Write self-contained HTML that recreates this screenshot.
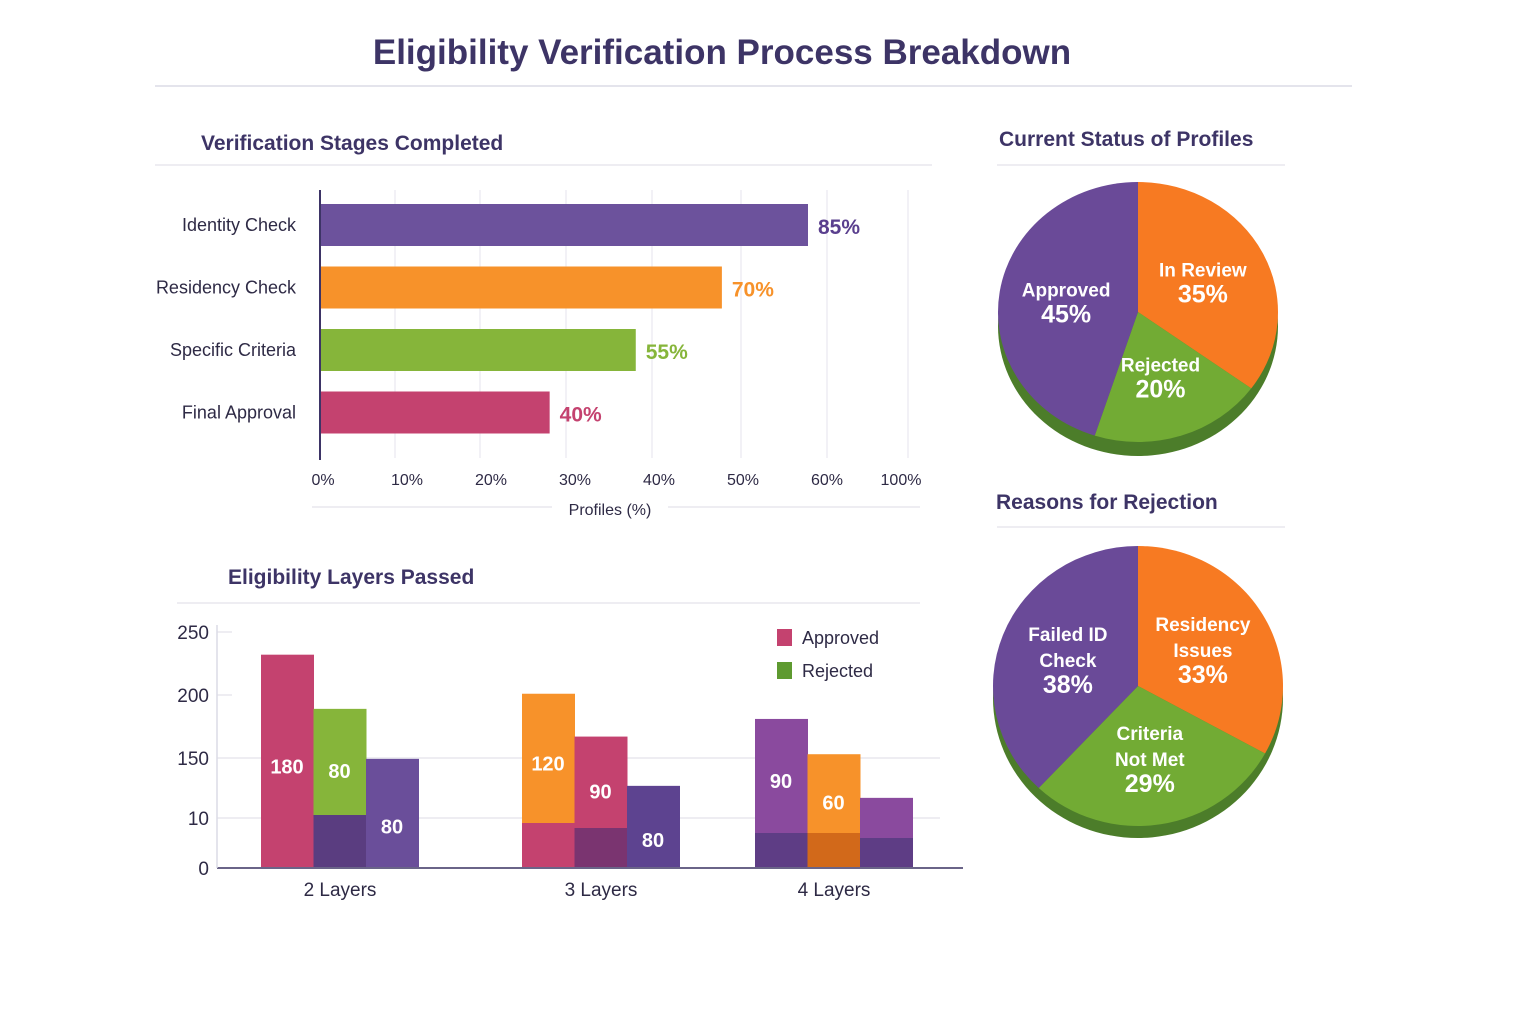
<!DOCTYPE html>
<html><head><meta charset="utf-8"><style>
body{margin:0;background:#fff;}
svg text{font-family:"Liberation Sans",sans-serif;}
</style></head><body>
<svg id="s" width="1536" height="1024" viewBox="0 0 1536 1024" xmlns="http://www.w3.org/2000/svg">
<text x="722" y="64" text-anchor="middle" font-size="35" font-weight="bold" fill="#3d3466">Eligibility Verification Process Breakdown</text>
<line x1="155" y1="86" x2="1352" y2="86" stroke="#dcdbe6" stroke-width="1.5"/>
<text x="201" y="150" font-size="21" font-weight="bold" fill="#3d3466">Verification Stages Completed</text>
<line x1="155" y1="165" x2="932" y2="165" stroke="#dcdbe6"/>
<text x="999" y="146" font-size="21" font-weight="bold" fill="#3d3466">Current Status of Profiles</text>
<line x1="997" y1="165" x2="1285" y2="165" stroke="#dcdbe6"/>
<text x="996" y="509" font-size="21" font-weight="bold" fill="#3d3466">Reasons for Rejection</text>
<line x1="997" y1="527" x2="1285" y2="527" stroke="#dcdbe6"/>
<text x="228" y="584" font-size="21" font-weight="bold" fill="#3d3466">Eligibility Layers Passed</text>
<line x1="177" y1="603" x2="920" y2="603" stroke="#dcdbe6"/>
<text x="610" y="515" text-anchor="middle" font-size="16" fill="#2e2a45">Profiles (%)</text>
<line x1="312" y1="507" x2="552" y2="507" stroke="#dcdbe6"/>
<line x1="668" y1="507" x2="920" y2="507" stroke="#dcdbe6"/>
<g id="hbar"></g><g id="vbar"></g><g id="pie1"></g><g id="pie2"></g>
</svg>
<script>
// Horizontal bar chart data
const stageNames=["Identity Check","Residency Check","Specific Criteria","Final Approval"];
const stageValues=[85,70,55,40];
const stageColors=["#6c529c","#f7922a","#86b53a","#c4426f"];
const stageTicks=["0%","10%","20%","30%","40%","50%","60%","100%"];
// Vertical grouped bar data
const layerCats=["2 Layers","3 Layers","4 Layers"];
const layerTop=[[232,189,148],[201,167,85],[181,153,57]];
const layerBase=[[0,17,0],[9,8,0],[7,7,6]];
const layerLabels=[["180","80","80"],["120","90","80"],["90","60",""]];
const layerTicks=[0,10,150,200,250];
// Pies
const pie1Labels=[["In Review"],["Rejected"],["Approved"]];
const pie1Values=[35,20,45];
const pie2Labels=[["Residency","Issues"],["Criteria","Not Met"],["Failed ID","Check"]];
const pie2Values=[33,29,38];

const NS="http://www.w3.org/2000/svg";
function mk(p,t,a,txt){const e=document.createElementNS(NS,t);for(const k in a)e.setAttribute(k,a[k]);if(txt!==undefined)e.textContent=txt;p.appendChild(e);return e;}

// ---- hbar
const hg=document.getElementById('hbar');
const hx=v=>320+v*(808-320)/85;
const hy=i=>204+i*62.5;
const gridX=[395,480,566,652,741,827,908];
gridX.forEach(x=>{const l=mk(hg,'line',{x1:x,y1:190,x2:x,y2:458,stroke:'#e4e3ec'});});
stageTicks.forEach((t,i)=>{const e=mk(hg,'text',{x:i<7?323+i*(827-323)/6:901,y:485,'text-anchor':'middle','font-size':16,fill:'#2e2a45'},t);});
stageNames.forEach((n,i)=>{
 const y=hy(i);
 const r=mk(hg,'rect',{x:320,y:y,width:hx(stageValues[i])-320,height:42,fill:stageColors[i]});
 
 const t=mk(hg,'text',{x:296,y:y+27,'text-anchor':'end','font-size':18,fill:'#2e2a45'},n);
 
 const v=mk(hg,'text',{x:hx(stageValues[i])+10,y:y+30,'font-size':21,'font-weight':'bold',fill:i==0?'#5a3f8e':stageColors[i]},stageValues[i]+'%');
 
});
const ax=mk(hg,'line',{x1:320,y1:190,x2:320,y2:460,stroke:'#3d3466','stroke-width':2});


// ---- vbar (piecewise axis through tick positions)
const vg=document.getElementById('vbar');
const tickY=[868,818,758,695,632];
function vy(v){for(let i=0;i<layerTicks.length-1;i++){if(v<=layerTicks[i+1]){const a=layerTicks[i],b=layerTicks[i+1];return tickY[i]+(v-a)/(b-a)*(tickY[i+1]-tickY[i]);}}return tickY[tickY.length-1];}
layerTicks.forEach(t=>{const y=vy(t);
 if(t>0){const l=mk(vg,'line',{x1:217,y1:y,x2:t==150||t==10?940:232,y2:y,stroke:'#dcdbe6'});}
 const e=mk(vg,'text',{x:209,y:y+7,'text-anchor':'end','font-size':19,fill:'#2e2a45'},String(t));});
const topCols=[["#c4426f","#86b53a","#6a4e9a"],["#f7922a","#c4426f","#5d4390"],["#8a4a9e","#f7922a","#8a4a9e"]];
const baseCols=[["#c4426f","#5a3d80","#6a4e9a"],["#c4426f","#7a3470","#5d4390"],["#5e3d85","#d2691a","#5e3d85"]];
const groupX=[261,522,755];
layerCats.forEach((c,g)=>{
 for(let j=0;j<3;j++){
  const x=groupX[g]+j*52.5, yt=vy(layerTop[g][j]), yb=vy(layerBase[g][j]);
  const r=mk(vg,'rect',{x:x,y:yt,width:53,height:868-yt,fill:topCols[g][j]});
  
  if(layerBase[g][j]>0){const b=mk(vg,'rect',{x:x,y:yb,width:53,height:868-yb,fill:baseCols[g][j]});}
  if(layerLabels[g][j]){const t=mk(vg,'text',{x:x+26,y:(yt+ (layerBase[g][j]>0?yb:868))/2+12+j*4,'text-anchor':'middle','font-size':20,'font-weight':'bold',fill:'#fff'},layerLabels[g][j]);}
 }
 const t=mk(vg,'text',{x:groupX[g]+79,y:896,'text-anchor':'middle','font-size':19,fill:'#2e2a45'},c);
});
let a1=mk(vg,'line',{x1:217,y1:868,x2:963,y2:868,stroke:'#6a6488','stroke-width':2});
let a2=mk(vg,'line',{x1:217,y1:625,x2:217,y2:868,stroke:'#dcdbe6','stroke-width':1.5});
[["Approved","#c4426f",637],["Rejected","#5e9a30",670]].forEach(l=>{
 const r=mk(vg,'rect',{x:777,y:l[2]-8,width:15,height:17,fill:l[1]});
 const t=mk(vg,'text',{x:802,y:l[2]+7,'font-size':18,fill:'#2e2a45'},l[0]);
});

// ---- pies
function pie(id,cx,cy,rx,ry,depth,vals,labels,cols,darks,fs){
 const g=document.getElementById(id);
 const tot=vals.reduce((a,b)=>a+b,0);
 const side=mk(g,'ellipse',{cx:cx,cy:cy+depth,rx:rx,ry:ry,fill:darks[1]});
 
 let ang=0;
 vals.forEach((v,i)=>{
  const a0=ang, a1=ang+v/tot*2*Math.PI; ang=a1;
  const p=(a)=>[cx+rx*Math.sin(a),cy-ry*Math.cos(a)];
  const [x0,y0]=p(a0),[x1,y1]=p(a1);
  const s=mk(g,'path',{d:`M${cx},${cy}L${x0},${y0}A${rx},${ry} 0 ${a1-a0>Math.PI?1:0} 1 ${x1},${y1}Z`,fill:cols[i]});
  
  const m=(a0+a1)/2, lx=cx+rx*0.52*Math.sin(m), ly=cy-ry*0.52*Math.cos(m);
  const lines=labels[i].concat([v+'%']);
  lines.forEach((t,k)=>{const big=k==lines.length-1;
   const e=mk(g,'text',{x:lx,y:ly+(k-(lines.length-1)/2)*26+8,'text-anchor':'middle','font-size':big?fs+6:fs,'font-weight':'bold',fill:'#fff'},t);
   });
 });
}
pie('pie1',1138,312,140,130,14,pie1Values,pie1Labels,["#f77a22","#72ab34","#6a4a98"],["#c85e18","#4c7d2a","#4e3578"],19);
pie('pie2',1138,686,145,140,12,pie2Values,pie2Labels,["#f77a22","#72ab34","#6a4a98"],["#c85e18","#4c7d2a","#4e3578"],19);
</script>
</body></html>
